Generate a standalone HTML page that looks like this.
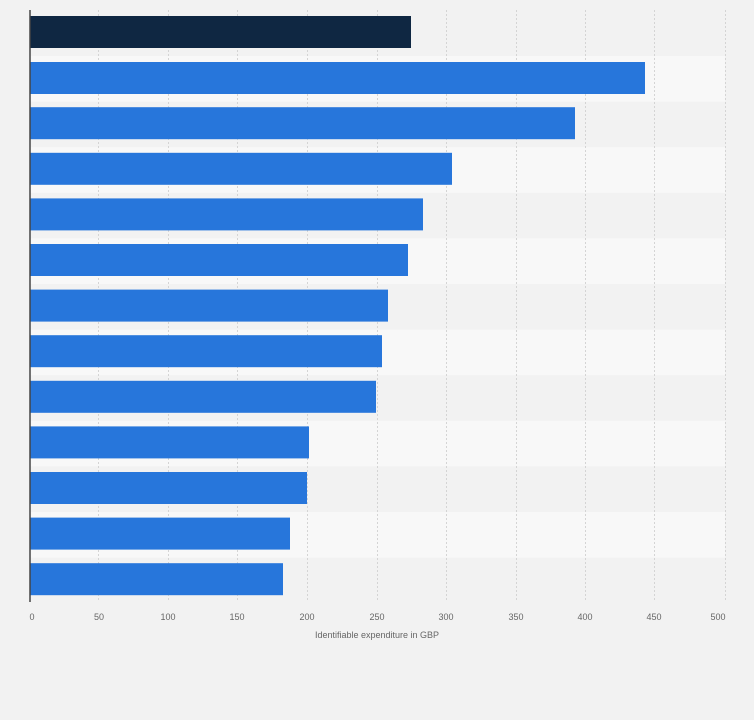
<!DOCTYPE html>
<html><head><style>
body{margin:0;background:#f2f2f2;}
svg{display:block;font-family:"Liberation Sans",sans-serif;}
</style></head><body>
<svg width="754" height="720" viewBox="0 0 754 720">
<rect width="754" height="720" fill="#f2f2f2"/>
<rect x="30" y="56" width="695" height="45.6" fill="#f8f8f8"/>
<rect x="30" y="147.2" width="695" height="45.6" fill="#f8f8f8"/>
<rect x="30" y="238.4" width="695" height="45.6" fill="#f8f8f8"/>
<rect x="30" y="329.6" width="695" height="45.6" fill="#f8f8f8"/>
<rect x="30" y="420.8" width="695" height="45.6" fill="#f8f8f8"/>
<rect x="30" y="512" width="695" height="45.6" fill="#f8f8f8"/>
<g stroke="#d4d4d4" stroke-dasharray="2,2" stroke-width="1">
<line x1="98.5" y1="10" x2="98.5" y2="602"/>
<line x1="168.5" y1="10" x2="168.5" y2="602"/>
<line x1="237.5" y1="10" x2="237.5" y2="602"/>
<line x1="307.5" y1="10" x2="307.5" y2="602"/>
<line x1="377.5" y1="10" x2="377.5" y2="602"/>
<line x1="446.5" y1="10" x2="446.5" y2="602"/>
<line x1="516.5" y1="10" x2="516.5" y2="602"/>
<line x1="585.5" y1="10" x2="585.5" y2="602"/>
<line x1="654.5" y1="10" x2="654.5" y2="602"/>
<line x1="725.5" y1="10" x2="725.5" y2="602"/>
</g>
<g fill="#2776db">
<rect x="30" y="16" width="381" height="32" fill="#0f2742"/>
<rect x="30" y="62" width="615" height="32"/>
<rect x="30" y="107.2" width="545" height="32"/>
<rect x="30" y="152.8" width="422" height="32"/>
<rect x="30" y="198.4" width="393" height="32"/>
<rect x="30" y="244" width="378" height="32"/>
<rect x="30" y="289.6" width="358" height="32"/>
<rect x="30" y="335.2" width="352" height="32"/>
<rect x="30" y="380.8" width="346" height="32"/>
<rect x="30" y="426.4" width="279" height="32"/>
<rect x="30" y="472" width="277" height="32"/>
<rect x="30" y="517.6" width="260" height="32"/>
<rect x="30" y="563.2" width="253" height="32"/>
</g>
<line x1="30" y1="10" x2="30" y2="602" stroke="#444" stroke-width="1.5"/>
<g font-size="9" fill="#666" text-anchor="middle">
<text x="32" y="620">0</text>
<text x="99" y="620">50</text>
<text x="168" y="620">100</text>
<text x="237" y="620">150</text>
<text x="307" y="620">200</text>
<text x="377" y="620">250</text>
<text x="446" y="620">300</text>
<text x="516" y="620">350</text>
<text x="585" y="620">400</text>
<text x="654" y="620">450</text>
<text x="718" y="620">500</text>
<text x="377" y="638">Identifiable expenditure in GBP</text>
</g>
</svg>
</body></html>
